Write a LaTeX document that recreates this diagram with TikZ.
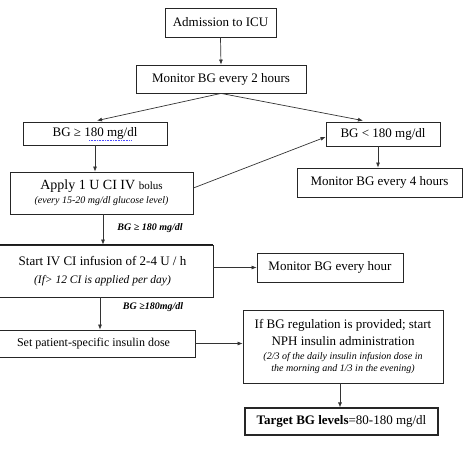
\documentclass[tikz,border=0pt]{standalone}
\usepackage{fontspec}
\setmainfont{Liberation Serif}
\usetikzlibrary{arrows.meta}
\tikzset{
  box/.style={draw=black!85, line width=0.8pt, inner sep=0pt, align=center},
  arr/.style={draw=black!80, line width=0.7pt, -{Latex[length=5pt,width=4pt]}},
  cond/.style={font=\fontsize{10}{12}\selectfont\bfseries\itshape},
}
\newcommand{\bigtxt}{\fontsize{13}{15}\selectfont}
\newcommand{\smalltxt}{\fontsize{10}{12}\selectfont\itshape}

\begin{document}
\begin{tikzpicture}[x=1pt, y=-1pt]
			%%%%% START %%%%%
			\useasboundingbox (0,0) rectangle (474,474);
			\clip (0,0) rectangle (474,474);
			
			\node[box, minimum width=111, minimum height=29, font=\bigtxt] (adm) at (220.5, 22.5) {Admission to ICU};
			\node[box, minimum width=170, minimum height=28, font=\bigtxt] (mon2) at (221, 79) {Monitor BG every 2 hours};
			
			\node[box, minimum width=144, minimum height=23, font=\bigtxt] (bghi) at (95, 133.5) {BG ≥ 180 mg/dl};
			\draw[blue!70, densely dotted, line width=0.6pt] (89, 140.5) -- (131, 140.5);
			\node[box, minimum width=114, minimum height=24, font=\bigtxt] (bglo) at (383, 134) {BG < 180 mg/dl};
			\node[box, minimum width=165, minimum height=29, font=\bigtxt] (mon4) at (379.5, 182.5) {Monitor BG every 4 hours};
			
			\node[box, minimum width=183, minimum height=42, font=\bigtxt] (bolus) at (101.5, 193)
				{{\fontsize{14}{16}\selectfont Apply 1 U CI IV {\fontsize{11}{13}\selectfont bolus}}\\[-1pt]
				 {\smalltxt (every 15-20 mg/dl glucose level)}};
			
			\node[box, minimum width=221, minimum height=52, font=\bigtxt] (start) at (102.5, 271)
				{Start IV CI infusion of 2-4 U / h\\[3pt]
				 {\fontsize{11.5}{13}\selectfont\itshape (If> 12 CI is applied per day)}};
			\draw[line width=1.6pt, black!90] (start.north west) -- (start.north east);
			\node[box, minimum width=146, minimum height=29, font=\bigtxt] (monh) at (330, 267.5) {Monitor BG every hour};
			
			\node[box, minimum width=203, minimum height=27, font=\fontsize{12}{14}\selectfont] (dose) at (93.5, 343.5) {Set patient-specific insulin dose};
			\node[box, minimum width=200, minimum height=73, font=\bigtxt] (nph) at (343, 346.5)
				{If BG regulation is provided; start\\[2pt]
				 NPH insulin administration\\[-1pt]
				 {\smalltxt (2/3 of the daily insulin infusion dose in}\\[-3pt]
				 {\smalltxt the morning and 1/3 in the evening)}};
			\node[box, line width=1.2pt, minimum width=193, minimum height=27, font=\bigtxt] (target) at (341.5, 421.5)
				{\textbf{Target BG levels}=80-180 mg/dl};
			
			\node[cond] (c1) at (150, 228) {BG ≥ 180 mg/dl};
			\node[cond] (c2) at (153, 307) {BG ≥180mg/dl};
			
			\draw[arr] (adm.south) -- (mon2.north);
			\draw[arr] (mon2.south) -- ([xshift=2pt, yshift=1pt]bghi.north);
			\draw[arr] (mon2.south) -- ([xshift=-20pt, yshift=1pt]bglo.north);
			\draw[arr] (bghi.south) -- (bghi.south |- bolus.north);
			\draw[arr] (bolus.east |- 0,188) -- ([yshift=-3pt]bglo.west);
			\draw[arr] ([xshift=-5pt]bglo.south) -- ([xshift=-5pt]bglo.south |- mon4.north);
			\draw[arr] (bolus.south -| 103,0) -- (start.north -| 103,0);
			\draw[arr] (start.east |- monh.west) -- (monh.west);
			\draw[arr] (start.south -| 100,0) -- (dose.north -| 100,0);
			\draw[arr] (dose.east) -- (nph.west |- dose.east);
			\draw[arr] (nph.south -| 340,0) -- (target.north -| 340,0);
			
			%%%%% END %%%%%
\end{tikzpicture}
\end{document}
